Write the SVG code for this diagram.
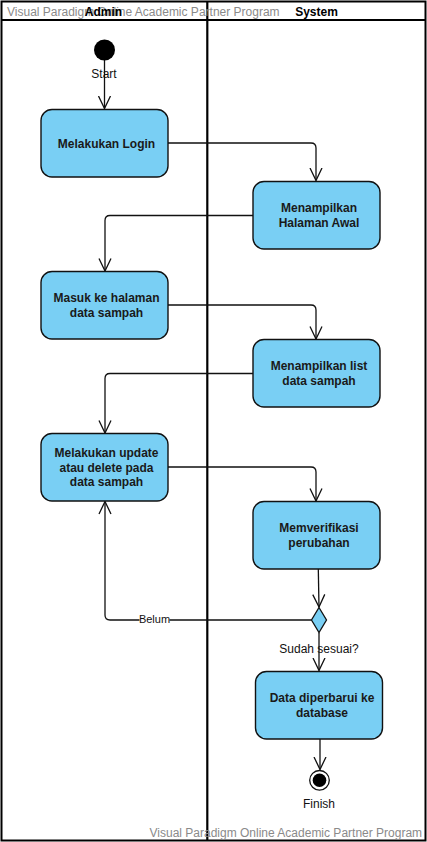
<svg xmlns="http://www.w3.org/2000/svg" width="427" height="842" viewBox="0 0 427 842">
<defs>
<style>
.box{fill:#79cff4;stroke:#111;stroke-width:1.4}
.t{font-family:"Liberation Sans",Arial,sans-serif;font-size:12px;font-weight:bold;fill:#1a1a1a;text-anchor:middle}
.lbl{font-family:"Liberation Sans",Arial,sans-serif;font-size:12px;fill:#111;text-anchor:middle}
.wm{font-family:"Liberation Sans",Arial,sans-serif;font-size:12px;fill:#8a8a8a}
.hd{font-family:"Liberation Sans",Arial,sans-serif;font-size:12px;font-weight:bold;fill:#000;text-anchor:middle}
.c{fill:none;stroke:#111;stroke-width:1.3}
</style>
<marker id="arr" markerWidth="14" markerHeight="14" viewBox="-13 -7 14 14" refX="0" refY="0" orient="auto" markerUnits="userSpaceOnUse">
<path d="M-12.5,-6 L0,0 L-12.5,6" fill="none" stroke="#111" stroke-width="1.3"/>
</marker>
</defs>
<rect x="0" y="0" width="427" height="842" fill="#fff"/>
<g id="pool">
<rect x="1.5" y="1.5" width="424" height="839" fill="none" stroke="#000" stroke-width="2"/>
<line x1="1.5" y1="20" x2="425.5" y2="20" stroke="#000" stroke-width="2"/>
<line x1="207.3" y1="1.5" x2="207.3" y2="840.5" stroke="#000" stroke-width="2.2"/>
<text class="wm" x="7" y="16">Visual Paradigm Online Academic Partner Program</text>
<text class="hd" x="103.5" y="15.5">Admin</text>
<text class="hd" x="316.5" y="15.5">System</text>
<text class="wm" x="149.5" y="836.5">Visual Paradigm Online Academic Partner Program</text>
</g>
<g id="connectors">
<line class="c" x1="104.5" y1="58" x2="104.5" y2="108.5" marker-end="url(#arr)"/>
<path class="c" d="M168,143 H311 Q316,143 316,148 V180.5" marker-end="url(#arr)"/>
<path class="c" d="M253,215.5 H110 Q105,215.5 105,220.5 V271" marker-end="url(#arr)"/>
<path class="c" d="M168,305 H311 Q316,305 316,310 V339" marker-end="url(#arr)"/>
<path class="c" d="M253,373.5 H110 Q105,373.5 105,378.5 V433" marker-end="url(#arr)"/>
<path class="c" d="M168,467 H311 Q316,467 316,472 V501" marker-end="url(#arr)"/>
<line class="c" x1="318.3" y1="569" x2="319" y2="607" marker-end="url(#arr)"/>
<path class="c" d="M311.5,620 H110 Q105,620 105,615 V501.5" marker-end="url(#arr)"/>
<line class="c" x1="319" y1="632.5" x2="319" y2="670.5" marker-end="url(#arr)"/>
<line class="c" x1="320" y1="739" x2="320" y2="769.5" marker-end="url(#arr)"/>
<rect x="139.5" y="613" width="30" height="11" fill="#fff"/>
<text class="lbl" x="154.5" y="623" style="font-size:11px">Belum</text>
<text class="lbl" x="319" y="653">Sudah sesuai?</text>
</g>
<g id="start">
<circle cx="104.5" cy="50" r="10.5" fill="#000"/>
<text class="lbl" x="104" y="77.5">Start</text>
</g>
<g id="login">
<rect class="box" x="41" y="109.5" width="127" height="67.5" rx="11"/>
<text class="t" x="106.5" y="147.5">Melakukan Login</text>
</g>
<g id="halaman-awal">
<rect class="box" x="253" y="181.5" width="127" height="67.5" rx="11"/>
<text class="t" x="319" y="212">Menampilkan</text>
<text class="t" x="319" y="227">Halaman Awal</text>
</g>
<g id="masuk">
<rect class="box" x="41" y="271.5" width="127" height="67.5" rx="11"/>
<text class="t" x="106.5" y="302">Masuk ke halaman</text>
<text class="t" x="106.5" y="317">data sampah</text>
</g>
<g id="list">
<rect class="box" x="253" y="339.5" width="127" height="67.5" rx="11"/>
<text class="t" x="319" y="369.5">Menampilkan list</text>
<text class="t" x="319" y="384.5">data sampah</text>
</g>
<g id="update">
<rect class="box" x="41" y="433.5" width="127" height="67.5" rx="11"/>
<text class="t" x="106.5" y="457">Melakukan update</text>
<text class="t" x="106.5" y="471.5">atau delete pada</text>
<text class="t" x="106.5" y="486">data sampah</text>
</g>
<g id="verifikasi">
<rect class="box" x="253" y="501.5" width="127" height="67.5" rx="11"/>
<text class="t" x="319" y="532">Memverifikasi</text>
<text class="t" x="319" y="546.5">perubahan</text>
</g>
<g id="decision">
<polygon points="319,607.5 326.5,620 319,632.5 311.5,620" fill="#79cff4" stroke="#111" stroke-width="1.3"/>
</g>
<g id="database">
<rect class="box" x="255.5" y="671.5" width="127" height="67.5" rx="11"/>
<text class="t" x="322" y="702">Data diperbarui ke</text>
<text class="t" x="322" y="716.5">database</text>
</g>
<g id="finish">
<circle cx="319.5" cy="780.3" r="9.8" fill="#fff" stroke="#111" stroke-width="1.3"/>
<circle cx="319.5" cy="780.3" r="6.8" fill="#000"/>
<text class="lbl" x="319" y="807.5">Finish</text>
</g>
</svg>
